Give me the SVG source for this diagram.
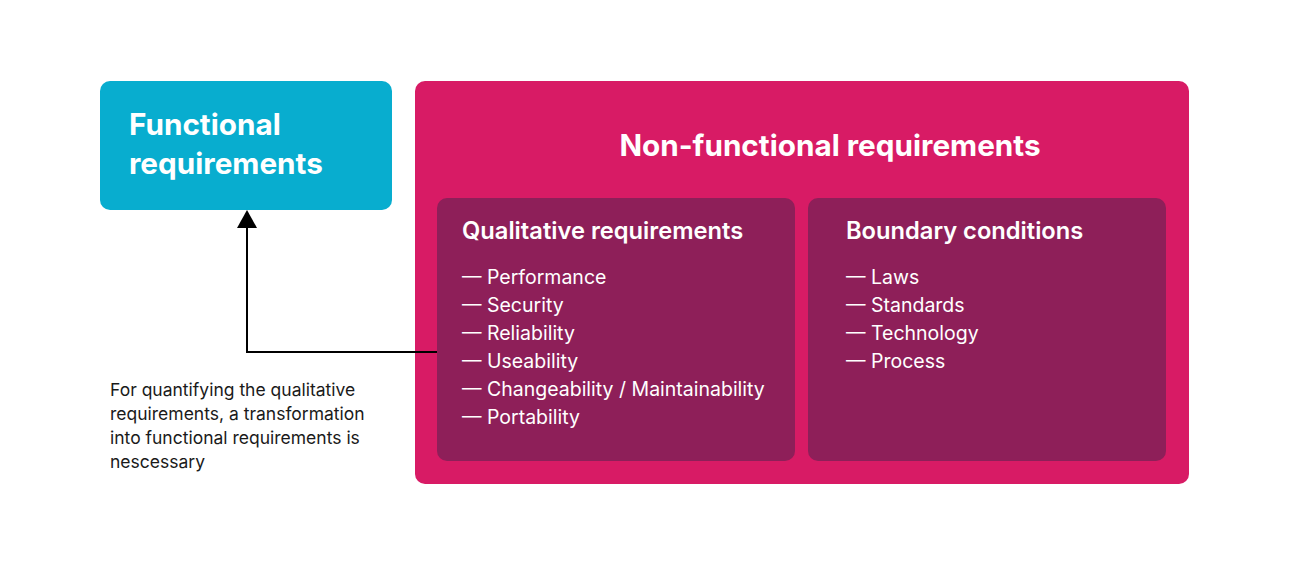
<svg xmlns="http://www.w3.org/2000/svg" width="1289" height="572" viewBox="0 0 1289 572">
<style>
.t{font-family:Inter,"Noto Sans",sans-serif;fill:#fff}
.h1{font-size:29.7px;font-weight:700}
.h2{font-size:23.7px;font-weight:600}
.li{font-size:19.5px;font-weight:400}
.note{font-family:Inter,"Noto Sans",sans-serif;font-size:17.5px;fill:#1a1a1a}
.box{rx:10px}
</style>
<rect width="1289" height="572" fill="#fff"/>
<g id="functional">
<rect x="100" y="81" width="292" height="129" rx="10" fill="#08ADCF"/>
<text class="t h1" x="129" y="135">Functional</text>
<text class="t h1" x="129" y="174">requirements</text>
</g>
<g id="nonfunctional">
<rect x="415" y="81" width="774" height="403" rx="10" fill="#D81B65"/>
<text class="t h1" x="830" y="156" text-anchor="middle">Non-functional requirements</text>
</g>
<g id="qualitative">
<rect x="437" y="198" width="358" height="263" rx="10" fill="#8E1F59"/>
<text class="t h2" x="462" y="239">Qualitative requirements</text>
<text class="t li" x="462" y="284">— Performance</text>
<text class="t li" x="462" y="312">— Security</text>
<text class="t li" x="462" y="340">— Reliability</text>
<text class="t li" x="462" y="368">— Useability</text>
<text class="t li" x="462" y="396">— Changeability / Maintainability</text>
<text class="t li" x="462" y="424">— Portability</text>
</g>
<g id="boundary">
<rect x="808" y="198" width="358" height="263" rx="10" fill="#8E1F59"/>
<text class="t h2" x="846" y="239">Boundary conditions</text>
<text class="t li" x="846" y="284">— Laws</text>
<text class="t li" x="846" y="312">— Standards</text>
<text class="t li" x="846" y="340">— Technology</text>
<text class="t li" x="846" y="368">— Process</text>
</g>
<g id="connectors">
<polyline points="437,352 247,352 247,226" fill="none" stroke="#000" stroke-width="2"/>
<polygon points="247,210 237,228 257,228" fill="#000"/>
</g>
<g id="note">
<text class="note" x="110" y="396">For quantifying the qualitative</text>
<text class="note" x="110" y="420">requirements, a transformation</text>
<text class="note" x="110" y="444">into functional requirements is</text>
<text class="note" x="110" y="468">nescessary</text>
</g>
</svg>
